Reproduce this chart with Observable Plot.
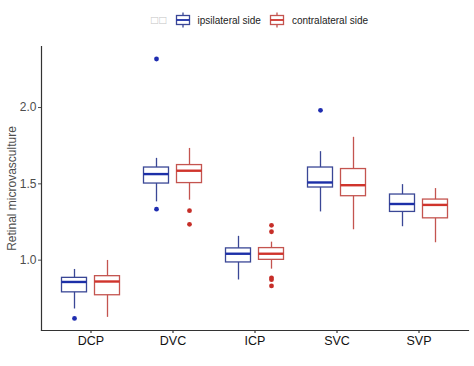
<!DOCTYPE html>
<html>
<head>
<meta charset="utf-8">
<script src="https://cdn.jsdelivr.net/npm/d3@7"></script>
<script src="https://cdn.jsdelivr.net/npm/@observablehq/plot@0.6"></script>
<style>
  html, body { margin: 0; padding: 0; background: #fff; }
  body { width: 474px; height: 366px; overflow: hidden; font-family: "Liberation Sans", Arial, sans-serif; }
  #legend { height: 36px; display: flex; align-items: center; justify-content: flex-start; padding-left: 151px; box-sizing: border-box; font-size: 10px; color: #222; padding-top: 4px; }
  #legend .tofu { color: #c4c4c4; letter-spacing: 1px; margin-right: 7px; font-size: 12px; }
  #legend .item { display: flex; align-items: center; margin-right: 8px; }
  #legend svg { margin-right: 7px; }
</style>
</head>
<body>
<div id="legend"></div>
<div id="chart"></div>
<script>
// ---- data ----
const categories = ["DCP", "DVC", "ICP", "SVC", "SVP"];
const sides = ["ipsilateral side", "contralateral side"];

const ipsiLow  = [0.680, 1.382, 0.870, 1.316, 1.219];
const ipsiQ1   = [0.789, 1.502, 0.985, 1.476, 1.316];
const ipsiMed  = [0.857, 1.564, 1.042, 1.509, 1.368];
const ipsiQ3   = [0.884, 1.607, 1.077, 1.607, 1.430];
const ipsiHigh = [0.939, 1.667, 1.156, 1.711, 1.495];
const ipsiOutCat = ["DCP", "DVC", "DVC", "SVC"];
const ipsiOutVal = [0.618, 1.334, 2.318, 1.982];

const contraLow  = [0.625, 1.393, 0.941, 1.199, 1.114];
const contraQ1   = [0.770, 1.505, 1.002, 1.419, 1.274];
const contraMed  = [0.860, 1.586, 1.042, 1.491, 1.362];
const contraQ3   = [0.895, 1.623, 1.079, 1.597, 1.397];
const contraHigh = [0.998, 1.732, 1.118, 1.805, 1.469];
const contraOutCat = ["DVC", "DVC", "ICP", "ICP", "ICP", "ICP", "ICP"];
const contraOutVal = [1.324, 1.235, 1.228, 1.186, 0.884, 0.872, 0.831];

const yTicks = [1.0, 1.5, 2.0];
const yDomain = [0.539, 2.40];

// ---- styles ----
const styles = {
  "ipsilateral side":   {box: "#3a4796", med: "#1c2fa8", dot: "#1f2db0", dx: -16.5},
  "contralateral side": {box: "#c4544f", med: "#d0342c", dot: "#c62e28", dx: 16.5}
};

// ---- tables built from arrays ----
const boxRows = side => {
  const [lo, q1, md, q3, hi] = side === sides[0]
    ? [ipsiLow, ipsiQ1, ipsiMed, ipsiQ3, ipsiHigh]
    : [contraLow, contraQ1, contraMed, contraQ3, contraHigh];
  return categories.map((c, i) => ({cat: c, lo: lo[i], q1: q1[i], med: md[i], q3: q3[i], hi: hi[i]}));
};
const outRows = side => {
  const [cs, vs] = side === sides[0] ? [ipsiOutCat, ipsiOutVal] : [contraOutCat, contraOutVal];
  return cs.map((c, i) => ({cat: c, v: vs[i]}));
};

const marks = [];
for (const side of sides) {
  const s = styles[side];
  const rows = boxRows(side);
  marks.push(
    Plot.ruleX(rows, {x: "cat", y1: "lo", y2: "hi", stroke: s.box, strokeWidth: 1.3, dx: s.dx}),
    Plot.barY(rows, {x: "cat", y1: "q1", y2: "q3", fill: "white", stroke: s.box, strokeWidth: 1.3, dx: s.dx}),
    Plot.tickY(rows, {x: "cat", y: "med", stroke: s.med, strokeWidth: 2.4, dx: s.dx}),
    Plot.dot(outRows(side), {x: "cat", y: "v", fill: s.dot, r: 2.4, dx: s.dx})
  );
}

const chart = Plot.plot({
  width: 474,
  height: 330,
  marginTop: 10,
  marginBottom: 36,
  marginLeft: 41,
  marginRight: 6,
  style: {fontFamily: "Liberation Sans, Arial, sans-serif", fontSize: "12px", background: "white"},
  x: {domain: categories, paddingInner: 0.695, paddingOuter: 0.451, axis: null},
  y: {domain: yDomain, axis: null},
  marks: [
    ...marks,
    Plot.axisY({ticks: yTicks, tickFormat: d3.format(".1f"), tickSize: 3, tickPadding: 2,
      fontSize: 12, color: "#4d4d4d",
      label: "Retinal microvasculture", labelAnchor: "center", labelArrow: "none", labelOffset: 34}),
    Plot.axisX({tickSize: 3, tickPadding: 3, fontSize: 12.5, color: "#111", label: null}),
    Plot.frame({anchor: "left", stroke: "#333", strokeWidth: 1.2}),
    Plot.frame({anchor: "bottom", stroke: "#333", strokeWidth: 1.2})
  ]
});
document.getElementById("chart").appendChild(chart);

// ---- legend ----
const legend = document.getElementById("legend");
const tofu = document.createElement("span");
tofu.className = "tofu";
tofu.textContent = "\u25A1\u25A1";
legend.appendChild(tofu);
for (const side of sides) {
  const s = styles[side];
  const item = document.createElement("span");
  item.className = "item";
  item.innerHTML =
    `<svg width="16" height="16" viewBox="0 0 16 16">
       <line x1="8" y1="0.5" x2="8" y2="15.5" stroke="${s.box}" stroke-width="1.3"/>
       <rect x="1.5" y="3.5" width="13" height="9" fill="white" stroke="${s.box}" stroke-width="1.3"/>
       <line x1="1.5" y1="8" x2="14.5" y2="8" stroke="${s.med}" stroke-width="1.8"/>
     </svg><span>${side}</span>`;
  legend.appendChild(item);
}
</script>
</body>
</html>
